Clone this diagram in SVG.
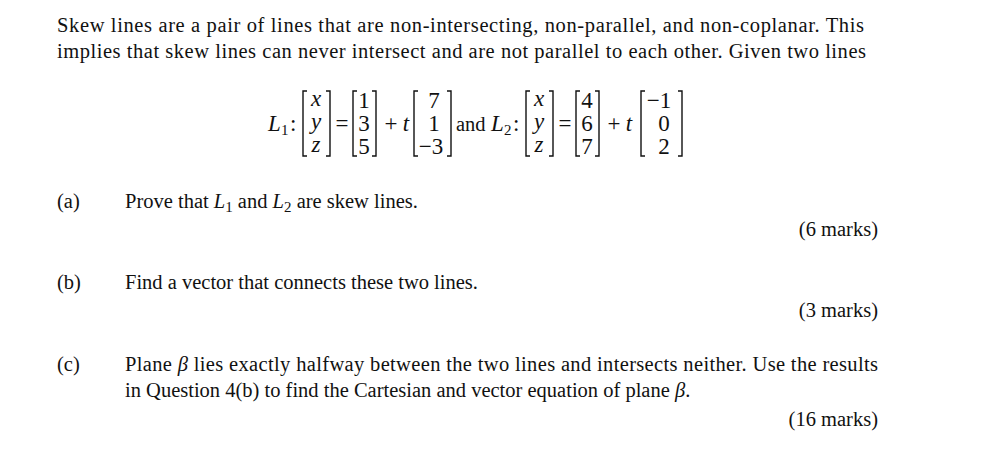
<svg xmlns="http://www.w3.org/2000/svg" width="988" height="472" viewBox="0 0 988 472">
<style>
text{font-family:"Liberation Serif",serif;font-size:20.5px;fill:#111}
.i{font-style:italic}
.e{font-size:23px}
.s{font-size:15px}
.b{fill:none;stroke:#111;stroke-width:1.4}
.r{text-anchor:end}
.c{text-anchor:middle}
</style>
<rect width="988" height="472" fill="#fff"/>
<text x="57" y="32" textLength="807" lengthAdjust="spacing">Skew lines are a pair of lines that are non-intersecting, non-parallel, and non-coplanar. This</text>
<text x="57" y="58" textLength="809" lengthAdjust="spacing">implies that skew lines can never intersect and are not parallel to each other. Given two lines</text>
<g id="eq">
<text x="268" y="131" class="i e">L</text><text x="281" y="135" class="s">1</text><text x="290" y="131" class="e">:</text>
<path class="b" d="M307 91h-4v65h4M326 91h4v65h-4"/>
<text x="316" y="106" class="i c e">x</text><text x="316" y="129" class="i c e">y</text><text x="316" y="152" class="i c e">z</text>
<text x="342" y="131" class="c e">=</text>
<path class="b" d="M357 91h-4v65h4M372 91h4v65h-4"/>
<text x="364" y="108" class="c e">1</text><text x="364" y="131" class="c e">3</text><text x="364" y="154" class="c e">5</text>
<text x="391" y="131" class="c e">+</text><text x="406" y="131" class="i c e">t</text>
<path class="b" d="M418 91h-4v65h4M447 91h4v65h-4"/>
<text x="434" y="108" class="c e">7</text><text x="434" y="131" class="c e">1</text><text x="431" y="154" class="c e">−3</text>
<text x="456" y="131">and</text>
<text x="491" y="131" class="i e">L</text><text x="504" y="135" class="s">2</text><text x="513" y="131" class="e">:</text>
<path class="b" d="M530 91h-4v65h4M549 91h4v65h-4"/>
<text x="539" y="106" class="i c e">x</text><text x="539" y="129" class="i c e">y</text><text x="539" y="152" class="i c e">z</text>
<text x="565" y="131" class="c e">=</text>
<path class="b" d="M580 91h-4v65h4M595 91h4v65h-4"/>
<text x="587" y="108" class="c e">4</text><text x="587" y="131" class="c e">6</text><text x="587" y="154" class="c e">7</text>
<text x="614" y="131" class="c e">+</text><text x="629" y="131" class="i c e">t</text>
<path class="b" d="M645 91h-4v65h4M678 91h4v65h-4"/>
<text x="659" y="108" class="c e">−1</text><text x="664" y="131" class="c e">0</text><text x="664" y="154" class="c e">2</text>
</g>
<g id="a">
<text x="57" y="208">(a)</text>
<text x="125" y="208">Prove that <tspan class="i">L</tspan><tspan class="s" dy="4">1</tspan><tspan dy="-4"> and </tspan><tspan class="i">L</tspan><tspan class="s" dy="4">2</tspan><tspan dy="-4"> are skew lines.</tspan></text>
<text x="878" y="236" class="r">(6 marks)</text>
</g>
<g id="b">
<text x="57" y="289">(b)</text>
<text x="125" y="289">Find a vector that connects these two lines.</text>
<text x="878" y="317" class="r">(3 marks)</text>
</g>
<g id="c">
<text x="57" y="371">(c)</text>
<text x="125" y="371" textLength="753" lengthAdjust="spacing">Plane <tspan class="i">β</tspan> lies exactly halfway between the two lines and intersects neither. Use the results</text>
<text x="125" y="397">in Question 4(b) to find the Cartesian and vector equation of plane <tspan class="i">β</tspan>.</text>
<text x="878" y="426" class="r">(16 marks)</text>
</g>
</svg>
